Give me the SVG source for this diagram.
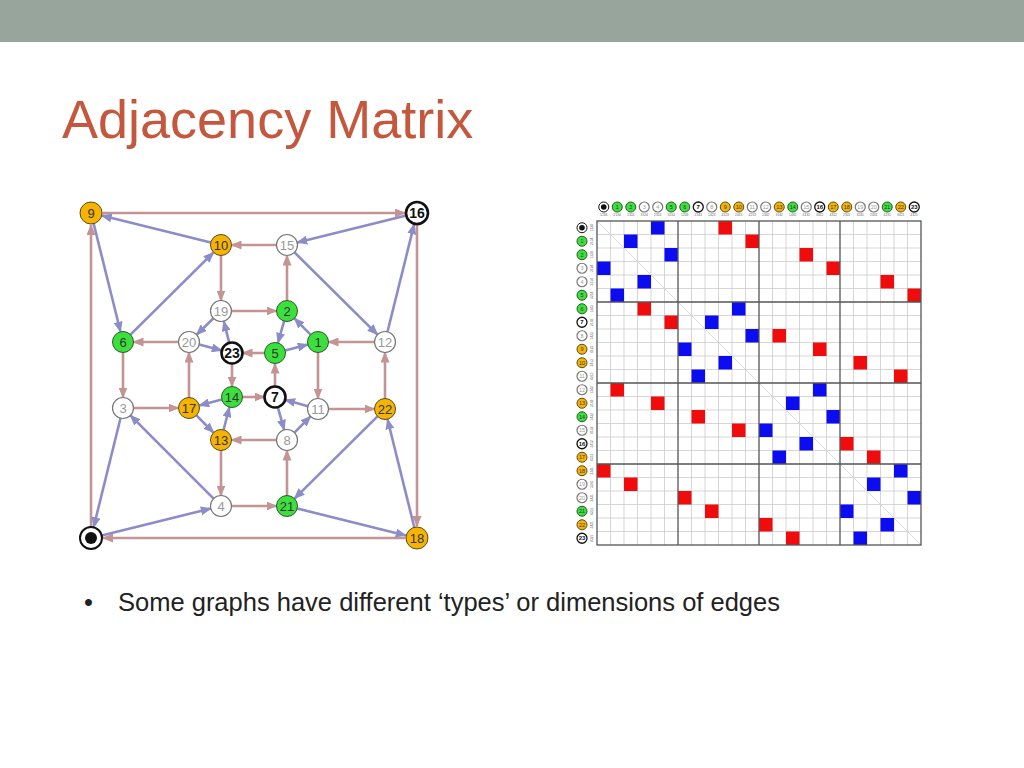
<svg xmlns="http://www.w3.org/2000/svg" width="1024" height="768" viewBox="0 0 1024 768">
<style>
.title{font-family:"Liberation Sans",Arial,sans-serif;font-size:54px;fill:#c4583e}
.body{font-family:"Liberation Sans",Arial,sans-serif;font-size:25.5px;fill:#222}
.re{stroke:#c49494;stroke-width:2.6;fill:none;marker-end:url(#ar)}
.be{stroke:#8c8cc8;stroke-width:2.6;fill:none;marker-end:url(#ab)}
.nt{font-family:"Liberation Sans",Arial,sans-serif;font-size:13px;text-anchor:middle;dominant-baseline:central}
.o circle{fill:#f6b400;stroke:#5a4a20;stroke-width:1}
.g circle{fill:#3ce03c;stroke:#2a5a2a;stroke-width:1}
.w circle{fill:#fff;stroke:#777;stroke-width:1.2}
.k circle{fill:#fff;stroke:#111;stroke-width:2.6}
.o text,.g text{fill:#333}
.w text{fill:#999}
.k text{fill:#111;font-weight:bold;font-size:14px}
.thin{stroke:#c4c4c4;stroke-width:0.7;fill:none}
.thick{stroke:#555;stroke-width:1.3;fill:none}
.rs{fill:#f00c0c}
.bs{fill:#0c0cf0}
.hc{font-family:"Liberation Sans",Arial,sans-serif;font-size:5.5px;text-anchor:middle;dominant-baseline:central}
.hl{font-family:"Liberation Sans",Arial,sans-serif;font-size:3.3px;text-anchor:middle;fill:#666}
</style>
<defs>
<marker id="ar" markerUnits="userSpaceOnUse" markerWidth="11" markerHeight="9" refX="10" refY="4.5" orient="auto"><path d="M0,0 L11,4.5 L0,9 z" fill="#c49494"/></marker>
<marker id="ab" markerUnits="userSpaceOnUse" markerWidth="11" markerHeight="9" refX="10" refY="4.5" orient="auto"><path d="M0,0 L11,4.5 L0,9 z" fill="#8c8cc8"/></marker>
</defs>
<rect x="0" y="0" width="1024" height="768" fill="#fff"/>
<rect x="0" y="0" width="1024" height="42" fill="#97a59c"/>
<text class="title" x="62" y="138">Adjacency Matrix</text>
<text class="body" x="84" y="611">•</text>
<text class="body" x="118" y="611">Some graphs have different ‘types’ or dimensions of edges</text>

<g id="connectors">
<g id="red-edges">
<line class="re" x1="91" y1="526.5" x2="91" y2="225"/>
<line class="re" x1="102.5" y1="213" x2="405" y2="213"/>
<line class="re" x1="417" y1="224.5" x2="417" y2="526"/>
<line class="re" x1="405.5" y1="538" x2="103" y2="538"/>
<line class="re" x1="318" y1="352.5" x2="318" y2="398.5"/>
<line class="re" x1="328.5" y1="409" x2="374.5" y2="409"/>
<line class="re" x1="385" y1="398.5" x2="385" y2="352.5"/>
<line class="re" x1="374.5" y1="342" x2="328.5" y2="342"/>
<line class="re" x1="287" y1="300.5" x2="287" y2="255.5"/>
<line class="re" x1="276.5" y1="245" x2="231.5" y2="245"/>
<line class="re" x1="221" y1="255.5" x2="221" y2="300.5"/>
<line class="re" x1="231.5" y1="311" x2="276.5" y2="311"/>
<line class="re" x1="133.5" y1="408" x2="178.5" y2="408"/>
<line class="re" x1="189" y1="397.5" x2="189" y2="352.5"/>
<line class="re" x1="123" y1="352.5" x2="123" y2="397.5"/>
<line class="re" x1="178.5" y1="342" x2="133.5" y2="342"/>
<line class="re" x1="231.5" y1="506" x2="276.5" y2="506"/>
<line class="re" x1="287" y1="495.5" x2="287" y2="450.5"/>
<line class="re" x1="276.5" y1="440" x2="231.5" y2="440"/>
<line class="re" x1="221" y1="450.5" x2="221" y2="495.5"/>
<line class="re" x1="264.5" y1="353" x2="242.5" y2="353"/>
<line class="re" x1="232" y1="363.5" x2="232" y2="386.5"/>
<line class="re" x1="242.5" y1="397" x2="264.5" y2="397"/>
<line class="re" x1="275" y1="386.5" x2="275" y2="363.5"/>
</g>
<g id="blue-edges">
<line class="be" x1="101.7" y1="535.4" x2="210.8" y2="508.5"/>
<line class="be" x1="213.6" y1="498.6" x2="130.4" y2="415.4"/>
<line class="be" x1="120.5" y1="418.2" x2="93.6" y2="527.3"/>
<line class="be" x1="310.6" y1="334.6" x2="294.4" y2="318.4"/>
<line class="be" x1="284.1" y1="321.1" x2="277.9" y2="342.9"/>
<line class="be" x1="285.2" y1="350.4" x2="307.8" y2="344.6"/>
<line class="be" x1="130.5" y1="334.6" x2="213.5" y2="252.4"/>
<line class="be" x1="210.8" y1="242.5" x2="101.7" y2="215.6"/>
<line class="be" x1="93.7" y1="223.7" x2="120.5" y2="331.8"/>
<line class="be" x1="277.8" y1="407.1" x2="284.2" y2="429.9"/>
<line class="be" x1="294.4" y1="432.6" x2="310.6" y2="416.4"/>
<line class="be" x1="307.9" y1="406.2" x2="285.1" y2="399.8"/>
<line class="be" x1="387.5" y1="331.8" x2="414.2" y2="224.2"/>
<line class="be" x1="406.3" y1="215.6" x2="297.2" y2="242.5"/>
<line class="be" x1="294.5" y1="252.4" x2="377.5" y2="334.6"/>
<line class="be" x1="223.6" y1="429.8" x2="229.4" y2="407.2"/>
<line class="be" x1="221.8" y1="399.6" x2="199.2" y2="405.4"/>
<line class="be" x1="196.4" y1="415.4" x2="213.6" y2="432.6"/>
<line class="be" x1="414.3" y1="527.3" x2="387.5" y2="419.2"/>
<line class="be" x1="377.5" y1="416.4" x2="294.5" y2="498.6"/>
<line class="be" x1="297.2" y1="508.5" x2="405.8" y2="535.4"/>
<line class="be" x1="213.5" y1="318.3" x2="196.5" y2="334.7"/>
<line class="be" x1="199.2" y1="344.6" x2="221.8" y2="350.4"/>
<line class="be" x1="229.3" y1="342.8" x2="223.7" y2="321.2"/>
</g>
</g>

<g id="node-0"><circle cx="91" cy="538" r="11" fill="#fff" stroke="#111" stroke-width="2"/><circle cx="91" cy="538" r="6" fill="#111"/></g>
<g id="node-1" class="g"><circle cx="318" cy="342" r="10.5"/><text class="nt" x="318" y="342">1</text></g>
<g id="node-2" class="g"><circle cx="287" cy="311" r="10.5"/><text class="nt" x="287" y="311">2</text></g>
<g id="node-3" class="w"><circle cx="123" cy="408" r="10.5"/><text class="nt" x="123" y="408">3</text></g>
<g id="node-4" class="w"><circle cx="221" cy="506" r="10.5"/><text class="nt" x="221" y="506">4</text></g>
<g id="node-5" class="g"><circle cx="275" cy="353" r="10.5"/><text class="nt" x="275" y="353">5</text></g>
<g id="node-6" class="g"><circle cx="123" cy="342" r="10.5"/><text class="nt" x="123" y="342">6</text></g>
<g id="node-7" class="k"><circle cx="275" cy="397" r="10.5"/><text class="nt" x="275" y="397">7</text></g>
<g id="node-8" class="w"><circle cx="287" cy="440" r="10.5"/><text class="nt" x="287" y="440">8</text></g>
<g id="node-9" class="o"><circle cx="91" cy="213" r="11"/><text class="nt" x="91" y="213">9</text></g>
<g id="node-10" class="o"><circle cx="221" cy="245" r="10.5"/><text class="nt" x="221" y="245">10</text></g>
<g id="node-11" class="w"><circle cx="318" cy="409" r="10.5"/><text class="nt" x="318" y="409">11</text></g>
<g id="node-12" class="w"><circle cx="385" cy="342" r="10.5"/><text class="nt" x="385" y="342">12</text></g>
<g id="node-13" class="o"><circle cx="221" cy="440" r="10.5"/><text class="nt" x="221" y="440">13</text></g>
<g id="node-14" class="g"><circle cx="232" cy="397" r="10.5"/><text class="nt" x="232" y="397">14</text></g>
<g id="node-15" class="w"><circle cx="287" cy="245" r="10.5"/><text class="nt" x="287" y="245">15</text></g>
<g id="node-16" class="k"><circle cx="417" cy="213" r="11"/><text class="nt" x="417" y="213">16</text></g>
<g id="node-17" class="o"><circle cx="189" cy="408" r="10.5"/><text class="nt" x="189" y="408">17</text></g>
<g id="node-18" class="o"><circle cx="417" cy="538" r="11"/><text class="nt" x="417" y="538">18</text></g>
<g id="node-19" class="w"><circle cx="221" cy="311" r="10.5"/><text class="nt" x="221" y="311">19</text></g>
<g id="node-20" class="w"><circle cx="189" cy="342" r="10.5"/><text class="nt" x="189" y="342">20</text></g>
<g id="node-21" class="g"><circle cx="287" cy="506" r="10.5"/><text class="nt" x="287" y="506">21</text></g>
<g id="node-22" class="o"><circle cx="385" cy="409" r="10.5"/><text class="nt" x="385" y="409">22</text></g>
<g id="node-23" class="k"><circle cx="232" cy="353" r="10.5"/><text class="nt" x="232" y="353">23</text></g>

<g id="matrix">
<rect x="597" y="221" width="324" height="324" fill="#fff"/>
<path class="thin" d="M610.5 221V545M624 221V545M637.5 221V545M651 221V545M664.5 221V545M691.5 221V545M705 221V545M718.5 221V545M732 221V545M745.5 221V545M772.5 221V545M786 221V545M799.5 221V545M813 221V545M826.5 221V545M853.5 221V545M867 221V545M880.5 221V545M894 221V545M907.5 221V545M597 234.5H921M597 248H921M597 261.5H921M597 275H921M597 288.5H921M597 315.5H921M597 329H921M597 342.5H921M597 356H921M597 369.5H921M597 396.5H921M597 410H921M597 423.5H921M597 437H921M597 450.5H921M597 477.5H921M597 491H921M597 504.5H921M597 518H921M597 531.5H921"/>
<line x1="597" y1="221" x2="921" y2="545" stroke="#d4d4d4" stroke-width="0.8"/>
<g id="red-cells" class="rs">
<rect x="718.5" y="221" width="13.5" height="13.5"/>
<rect x="745.5" y="234.5" width="13.5" height="13.5"/>
<rect x="799.5" y="248" width="13.5" height="13.5"/>
<rect x="826.5" y="261.5" width="13.5" height="13.5"/>
<rect x="880.5" y="275" width="13.5" height="13.5"/>
<rect x="907.5" y="288.5" width="13.5" height="13.5"/>
<rect x="637.5" y="302" width="13.5" height="13.5"/>
<rect x="664.5" y="315.5" width="13.5" height="13.5"/>
<rect x="772.5" y="329" width="13.5" height="13.5"/>
<rect x="813" y="342.5" width="13.5" height="13.5"/>
<rect x="853.5" y="356" width="13.5" height="13.5"/>
<rect x="894" y="369.5" width="13.5" height="13.5"/>
<rect x="610.5" y="383" width="13.5" height="13.5"/>
<rect x="651" y="396.5" width="13.5" height="13.5"/>
<rect x="691.5" y="410" width="13.5" height="13.5"/>
<rect x="732" y="423.5" width="13.5" height="13.5"/>
<rect x="840" y="437" width="13.5" height="13.5"/>
<rect x="867" y="450.5" width="13.5" height="13.5"/>
<rect x="597" y="464" width="13.5" height="13.5"/>
<rect x="624" y="477.5" width="13.5" height="13.5"/>
<rect x="678" y="491" width="13.5" height="13.5"/>
<rect x="705" y="504.5" width="13.5" height="13.5"/>
<rect x="759" y="518" width="13.5" height="13.5"/>
<rect x="786" y="531.5" width="13.5" height="13.5"/>
</g>
<g id="blue-cells" class="bs">
<rect x="651" y="221" width="13.5" height="13.5"/>
<rect x="624" y="234.5" width="13.5" height="13.5"/>
<rect x="664.5" y="248" width="13.5" height="13.5"/>
<rect x="597" y="261.5" width="13.5" height="13.5"/>
<rect x="637.5" y="275" width="13.5" height="13.5"/>
<rect x="610.5" y="288.5" width="13.5" height="13.5"/>
<rect x="732" y="302" width="13.5" height="13.5"/>
<rect x="705" y="315.5" width="13.5" height="13.5"/>
<rect x="745.5" y="329" width="13.5" height="13.5"/>
<rect x="678" y="342.5" width="13.5" height="13.5"/>
<rect x="718.5" y="356" width="13.5" height="13.5"/>
<rect x="691.5" y="369.5" width="13.5" height="13.5"/>
<rect x="813" y="383" width="13.5" height="13.5"/>
<rect x="786" y="396.5" width="13.5" height="13.5"/>
<rect x="826.5" y="410" width="13.5" height="13.5"/>
<rect x="759" y="423.5" width="13.5" height="13.5"/>
<rect x="799.5" y="437" width="13.5" height="13.5"/>
<rect x="772.5" y="450.5" width="13.5" height="13.5"/>
<rect x="894" y="464" width="13.5" height="13.5"/>
<rect x="867" y="477.5" width="13.5" height="13.5"/>
<rect x="907.5" y="491" width="13.5" height="13.5"/>
<rect x="840" y="504.5" width="13.5" height="13.5"/>
<rect x="880.5" y="518" width="13.5" height="13.5"/>
<rect x="853.5" y="531.5" width="13.5" height="13.5"/>
</g>
<path class="thick" d="M678 221V545M759 221V545M840 221V545M597 302H921M597 383H921M597 464H921"/>
<rect class="thick" x="597" y="221" width="324" height="324"/>

<g id="col-headers">
<circle cx="603.75" cy="207" r="5" fill="#fff" stroke="#111" stroke-width="1"/><circle cx="603.75" cy="207" r="2.8" fill="#111"/>
<g class="g"><circle cx="617.25" cy="207" r="5"/><text class="hc" x="617.25" y="207">1</text></g>
<g class="g"><circle cx="630.75" cy="207" r="5"/><text class="hc" x="630.75" y="207">2</text></g>
<g class="w"><circle cx="644.25" cy="207" r="5"/><text class="hc" x="644.25" y="207">3</text></g>
<g class="w"><circle cx="657.75" cy="207" r="5"/><text class="hc" x="657.75" y="207">4</text></g>
<g class="g"><circle cx="671.25" cy="207" r="5"/><text class="hc" x="671.25" y="207">5</text></g>
<g class="g"><circle cx="684.75" cy="207" r="5"/><text class="hc" x="684.75" y="207">6</text></g>
<g class="k"><circle cx="698.25" cy="207" r="5" style="stroke-width:1.3"/><text class="hc" x="698.25" y="207" style="font-size:6px">7</text></g>
<g class="w"><circle cx="711.75" cy="207" r="5"/><text class="hc" x="711.75" y="207">8</text></g>
<g class="o"><circle cx="725.25" cy="207" r="5"/><text class="hc" x="725.25" y="207">9</text></g>
<g class="o"><circle cx="738.75" cy="207" r="5"/><text class="hc" x="738.75" y="207">10</text></g>
<g class="w"><circle cx="752.25" cy="207" r="5"/><text class="hc" x="752.25" y="207">11</text></g>
<g class="w"><circle cx="765.75" cy="207" r="5"/><text class="hc" x="765.75" y="207">12</text></g>
<g class="o"><circle cx="779.25" cy="207" r="5"/><text class="hc" x="779.25" y="207">13</text></g>
<g class="g"><circle cx="792.75" cy="207" r="5"/><text class="hc" x="792.75" y="207">14</text></g>
<g class="w"><circle cx="806.25" cy="207" r="5"/><text class="hc" x="806.25" y="207">15</text></g>
<g class="k"><circle cx="819.75" cy="207" r="5" style="stroke-width:1.3"/><text class="hc" x="819.75" y="207" style="font-size:6px">16</text></g>
<g class="o"><circle cx="833.25" cy="207" r="5"/><text class="hc" x="833.25" y="207">17</text></g>
<g class="o"><circle cx="846.75" cy="207" r="5"/><text class="hc" x="846.75" y="207">18</text></g>
<g class="w"><circle cx="860.25" cy="207" r="5"/><text class="hc" x="860.25" y="207">19</text></g>
<g class="w"><circle cx="873.75" cy="207" r="5"/><text class="hc" x="873.75" y="207">20</text></g>
<g class="g"><circle cx="887.25" cy="207" r="5"/><text class="hc" x="887.25" y="207">21</text></g>
<g class="o"><circle cx="900.75" cy="207" r="5"/><text class="hc" x="900.75" y="207">22</text></g>
<g class="k"><circle cx="914.25" cy="207" r="5" style="stroke-width:1.3"/><text class="hc" x="914.25" y="207" style="font-size:6px">23</text></g>
<text class="hl" x="603.75" y="216">1234</text><text class="hl" x="617.25" y="216">2134</text><text class="hl" x="630.75" y="216">1324</text><text class="hl" x="644.25" y="216">3124</text><text class="hl" x="657.75" y="216">2314</text><text class="hl" x="671.25" y="216">3214</text><text class="hl" x="684.75" y="216">1243</text><text class="hl" x="698.25" y="216">2143</text><text class="hl" x="711.75" y="216">1423</text><text class="hl" x="725.25" y="216">4123</text><text class="hl" x="738.75" y="216">2413</text><text class="hl" x="752.25" y="216">4213</text><text class="hl" x="765.75" y="216">1342</text><text class="hl" x="779.25" y="216">3142</text><text class="hl" x="792.75" y="216">1432</text><text class="hl" x="806.25" y="216">4132</text><text class="hl" x="819.75" y="216">3412</text><text class="hl" x="833.25" y="216">4312</text><text class="hl" x="846.75" y="216">2341</text><text class="hl" x="860.25" y="216">3241</text><text class="hl" x="873.75" y="216">2431</text><text class="hl" x="887.25" y="216">4231</text><text class="hl" x="900.75" y="216">3421</text><text class="hl" x="914.25" y="216">4321</text>
</g>

<g id="row-headers">
<circle cx="582" cy="227.75" r="5" fill="#fff" stroke="#111" stroke-width="1"/><circle cx="582" cy="227.75" r="2.8" fill="#111"/>
<g class="g"><circle cx="582" cy="241.25" r="5"/><text class="hc" x="582" y="241.25">1</text></g>
<g class="g"><circle cx="582" cy="254.75" r="5"/><text class="hc" x="582" y="254.75">2</text></g>
<g class="w"><circle cx="582" cy="268.25" r="5"/><text class="hc" x="582" y="268.25">3</text></g>
<g class="w"><circle cx="582" cy="281.75" r="5"/><text class="hc" x="582" y="281.75">4</text></g>
<g class="g"><circle cx="582" cy="295.25" r="5"/><text class="hc" x="582" y="295.25">5</text></g>
<g class="g"><circle cx="582" cy="308.75" r="5"/><text class="hc" x="582" y="308.75">6</text></g>
<g class="k"><circle cx="582" cy="322.25" r="5" style="stroke-width:1.3"/><text class="hc" x="582" y="322.25" style="font-size:6px">7</text></g>
<g class="w"><circle cx="582" cy="335.75" r="5"/><text class="hc" x="582" y="335.75">8</text></g>
<g class="o"><circle cx="582" cy="349.25" r="5"/><text class="hc" x="582" y="349.25">9</text></g>
<g class="o"><circle cx="582" cy="362.75" r="5"/><text class="hc" x="582" y="362.75">10</text></g>
<g class="w"><circle cx="582" cy="376.25" r="5"/><text class="hc" x="582" y="376.25">11</text></g>
<g class="w"><circle cx="582" cy="389.75" r="5"/><text class="hc" x="582" y="389.75">12</text></g>
<g class="o"><circle cx="582" cy="403.25" r="5"/><text class="hc" x="582" y="403.25">13</text></g>
<g class="g"><circle cx="582" cy="416.75" r="5"/><text class="hc" x="582" y="416.75">14</text></g>
<g class="w"><circle cx="582" cy="430.25" r="5"/><text class="hc" x="582" y="430.25">15</text></g>
<g class="k"><circle cx="582" cy="443.75" r="5" style="stroke-width:1.3"/><text class="hc" x="582" y="443.75" style="font-size:6px">16</text></g>
<g class="o"><circle cx="582" cy="457.25" r="5"/><text class="hc" x="582" y="457.25">17</text></g>
<g class="o"><circle cx="582" cy="470.75" r="5"/><text class="hc" x="582" y="470.75">18</text></g>
<g class="w"><circle cx="582" cy="484.25" r="5"/><text class="hc" x="582" y="484.25">19</text></g>
<g class="w"><circle cx="582" cy="497.75" r="5"/><text class="hc" x="582" y="497.75">20</text></g>
<g class="g"><circle cx="582" cy="511.25" r="5"/><text class="hc" x="582" y="511.25">21</text></g>
<g class="o"><circle cx="582" cy="524.75" r="5"/><text class="hc" x="582" y="524.75">22</text></g>
<g class="k"><circle cx="582" cy="538.25" r="5" style="stroke-width:1.3"/><text class="hc" x="582" y="538.25" style="font-size:6px">23</text></g>
<text class="hl" x="593" y="227.75" transform="rotate(-90 593 227.75)">1234</text>
<text class="hl" x="593" y="241.25" transform="rotate(-90 593 241.25)">2134</text>
<text class="hl" x="593" y="254.75" transform="rotate(-90 593 254.75)">1324</text>
<text class="hl" x="593" y="268.25" transform="rotate(-90 593 268.25)">3124</text>
<text class="hl" x="593" y="281.75" transform="rotate(-90 593 281.75)">2314</text>
<text class="hl" x="593" y="295.25" transform="rotate(-90 593 295.25)">3214</text>
<text class="hl" x="593" y="308.75" transform="rotate(-90 593 308.75)">1243</text>
<text class="hl" x="593" y="322.25" transform="rotate(-90 593 322.25)">2143</text>
<text class="hl" x="593" y="335.75" transform="rotate(-90 593 335.75)">1423</text>
<text class="hl" x="593" y="349.25" transform="rotate(-90 593 349.25)">4123</text>
<text class="hl" x="593" y="362.75" transform="rotate(-90 593 362.75)">2413</text>
<text class="hl" x="593" y="376.25" transform="rotate(-90 593 376.25)">4213</text>
<text class="hl" x="593" y="389.75" transform="rotate(-90 593 389.75)">1342</text>
<text class="hl" x="593" y="403.25" transform="rotate(-90 593 403.25)">3142</text>
<text class="hl" x="593" y="416.75" transform="rotate(-90 593 416.75)">1432</text>
<text class="hl" x="593" y="430.25" transform="rotate(-90 593 430.25)">4132</text>
<text class="hl" x="593" y="443.75" transform="rotate(-90 593 443.75)">3412</text>
<text class="hl" x="593" y="457.25" transform="rotate(-90 593 457.25)">4312</text>
<text class="hl" x="593" y="470.75" transform="rotate(-90 593 470.75)">2341</text>
<text class="hl" x="593" y="484.25" transform="rotate(-90 593 484.25)">3241</text>
<text class="hl" x="593" y="497.75" transform="rotate(-90 593 497.75)">2431</text>
<text class="hl" x="593" y="511.25" transform="rotate(-90 593 511.25)">4231</text>
<text class="hl" x="593" y="524.75" transform="rotate(-90 593 524.75)">3421</text>
<text class="hl" x="593" y="538.25" transform="rotate(-90 593 538.25)">4321</text>
</g>
</g>
</svg>
